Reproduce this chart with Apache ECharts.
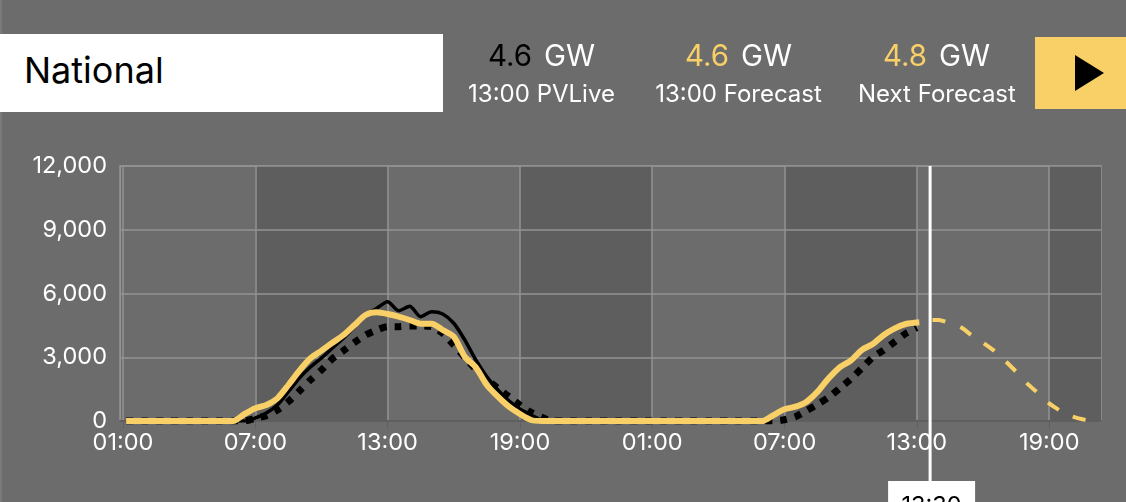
<!DOCTYPE html>
<html>
<head>
<meta charset="utf-8">
<style>
  html, body { margin: 0; padding: 0; background: #6c6c6c; overflow: hidden; }
  body { width: 1126px; height: 502px; position: relative; font-family: Inter, sans-serif; color: #fff; }
  #edge { position: absolute; left: 0; top: 0; width: 2px; height: 502px; background: #7a7a7a; }
  #chart { position: absolute; left: 0; top: 0; width: 1126px; height: 502px; }
  .area { position: absolute; left: 0; top: 34px; width: 443px; height: 78px; background: #fff; color: #000;
    font-size: 36px; line-height: 72px; text-indent: 24px; }
  .stat { position: absolute; top: 38px; text-align: center; white-space: nowrap; }
  .stat .val { font-size: 29.5px; line-height: 34px; }
  .stat .val span { margin-right: 12px; }
  .stat .sub { font-size: 24px; line-height: 34px; margin-top: 5px; }
  .black { color: #000; }
  .yellow { color: #f9d067; }
  #play { position: absolute; left: 1035px; top: 37px; width: 91px; height: 72px; background: #f9d067; }
  #play i { position: absolute; left: 40px; top: 18px; width: 0; height: 0;
    border-left: 29px solid #000; border-top: 18px solid transparent; border-bottom: 18px solid transparent; }
</style>
</head>
<body>
<div id="edge"></div>
<div id="chart"></div>
<div class="area">National</div>
<div class="stat" style="left:468px;width:147px"><div class="val"><span class="black">4.6</span>GW</div><div class="sub">13:00 PVLive</div></div>
<div class="stat" style="left:655px;width:167px"><div class="val"><span class="yellow">4.6</span>GW</div><div class="sub">13:00 Forecast</div></div>
<div class="stat" style="left:858px;width:157px"><div class="val"><span class="yellow">4.8</span>GW</div><div class="sub">Next Forecast</div></div>
<div id="play"><i></i></div>

<script src="https://cdn.jsdelivr.net/npm/echarts@6/dist/echarts.min.js"></script>
<script>
// half hourly readings, MW, first value is 01:00 on day one
const startHour = 1;
const pvliveFinal = [
  0,0,0,0,0,0,0,0,0,0,0,0,
  141,376,753,1380,2023,2541,2965,3435,3906,4439,4988,5300,5615,5190,5400,4909,5143,5035,4600,3811,2870,2086,1459,955,565,282,45,0
];
const pvliveEstimate = [
  0,0,0,0,0,0,0,0,0,0,0,0,
  125,250,518,910,1412,1930,2400,2933,3310,3700,4047,4282,4439,4439,4470,4470,4439,4125,3577,2996,2431,1960,1537,1144,753,408,172,
  0,0,0,0,0,0,0,0,0,0,0,0,0,0,0,0,0,0,0,0,0,
  60,204,486,785,1114,1537,1976,2479,2996,3340,3733,4125,4392
];
const forecast = [
  0,0,0,0,0,0,0,0,0,0,0,
  320,596,753,1066,1694,2368,2950,3310,3685,4047,4518,4988,5115,5035,4909,4753,4580,4580,4282,3967,3026,2525,1694,1144,673,329,47,
  0,0,0,0,0,0,0,0,0,0,0,0,0,0,0,0,0,0,0,0,0,
  280,550,673,910,1380,2007,2525,2839,3340,3623,4047,4360,4564,4643
];
// starts at 13:30 on day two
const nextForecastStart = 37.5;
const nextForecast = [4753,4753,4596,4407,4015,3685,3310,2839,2321,1773,1300,831,486,235,80,0];
// the lines really begin a few minutes after the first tick, forecast stops just after 13:00
const firstReadingHour = 1.14;
const lastForecastHour = 37.11;

const xTicks = [1, 7, 13, 19, 25, 31, 37, 43];
const nightBands = [[7, 13], [19, 25], [31, 37], [43, 45.35]];
const selectedHour = 37.6;
const selectedLabel = '13:30';

const yellow = '#f9d067';
const gridColor = '#939393';

const toPoints = (values, from) => values.map((v, i) => [from + i * 0.5, v]);
const hourLabel = h => String(h % 24).padStart(2, '0') + ':00';

const actualPoints = values => {
  const points = toPoints(values, startHour);
  points[0][0] = firstReadingHour;
  return points;
};
const forecastPoints = actualPoints(forecast);
forecastPoints[forecastPoints.length - 1][0] = lastForecastHour;

const lineSeries = (name, data, width, color, type, z, dashOffset) => ({
  name, type: 'line', data, z,
  smooth: 0.25, showSymbol: false, silent: true, animation: false,
  lineStyle: { width, color, type, dashOffset: dashOffset || 0 }
});

const chart = echarts.init(document.getElementById('chart'));
chart.setOption({
  animation: false,
  textStyle: { fontFamily: 'Inter' },
  grid: { left: 120, top: 166, width: 981, height: 255, show: true, borderColor: gridColor, borderWidth: 1.5 },
  xAxis: {
    type: 'value', min: 0.864, max: 45.35, z: 2,
    axisLine: { show: true, onZero: false, lineStyle: { color: '#5f5f5f', width: 2 } },
    axisTick: { show: true, length: 7, customValues: xTicks, lineStyle: { color: '#5f5f5f' } },
    splitLine: { show: true, lineStyle: { color: gridColor, width: 1.5 } },
    axisLabel: {
      customValues: xTicks, color: '#fff', fontSize: 23.5, margin: 10, hideOverlap: false,
      formatter: hourLabel
    }
  },
  yAxis: {
    type: 'value', min: 0, max: 12000, interval: 3000, z: 2,
    axisLine: { show: true, lineStyle: { color: gridColor } },
    axisTick: { show: false },
    splitLine: { show: true, lineStyle: { color: gridColor, width: 1.5 } },
    axisLabel: {
      color: '#fff', fontSize: 23.5, margin: 13, padding: [2, 0, 0, 0],
      formatter: v => v.toLocaleString('en-US')
    }
  },
  series: [
    {
      type: 'line', data: [], z: 1, silent: true,
      markArea: {
        silent: true,
        itemStyle: { color: '#5e5e5e' },
        data: nightBands.map(b => [{ xAxis: b[0] }, { xAxis: b[1] }])
      }
    },
    lineSeries('PVLive estimate', actualPoints(pvliveEstimate), 7, '#000', [7, 8], 3),
    lineSeries('PVLive', actualPoints(pvliveFinal), 3.5, '#000', 'solid', 4),
    lineSeries('Forecast', forecastPoints, 6, yellow, 'solid', 5),
    lineSeries('Next forecast', toPoints(nextForecast, nextForecastStart), 4, yellow, [13, 16], 5, -4.5),
    {
      // selected time marker, runs down past the axis into its label box
      type: 'custom', z: 6, silent: true, clip: false,
      data: [[selectedHour, 12000, 0]],
      renderItem: (params, api) => {
        const top = api.coord([api.value(0), api.value(1)]);
        const bottom = api.coord([api.value(0), api.value(2)]);
        return {
          type: 'group',
          children: [
            { type: 'line', shape: { x1: top[0], y1: top[1], x2: bottom[0], y2: bottom[1] + 60 },
              style: { stroke: '#fff', lineWidth: 3 } },
            { type: 'rect', shape: { x: top[0] - 42, y: bottom[1] + 60, width: 87, height: 40 },
              style: { fill: '#fff' } },
            { type: 'text', x: top[0] + 1.5, y: bottom[1] + 73,
              style: { text: selectedLabel, fill: '#000', font: '23.5px Inter', align: 'center', verticalAlign: 'top' } }
          ]
        };
      }
    }
  ]
});
</script>
</body>
</html>
